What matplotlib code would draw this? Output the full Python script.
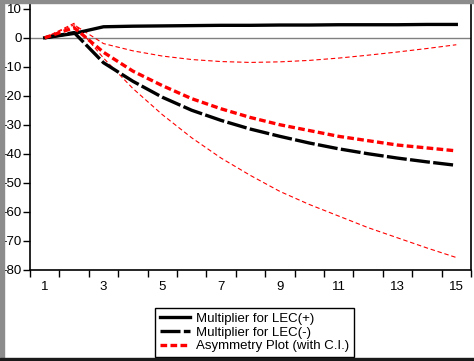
import matplotlib
matplotlib.use('Agg')
import matplotlib.pyplot as plt
from matplotlib.patches import Rectangle
import numpy as np

plt.rcParams.update({
    'font.family': 'Liberation Sans',
    'font.size': 9.5,
    'axes.unicode_minus': False,
})

periods = np.arange(1, 16)
lec_pos = [0, 1.5, 3.8, 4.0, 4.1, 4.2, 4.3, 4.3, 4.4, 4.4, 4.5, 4.5, 4.5, 4.6, 4.6]
lec_neg = [0, 1.8, -8.6, -15, -20.5, -25, -28.5, -31.5, -34, -36.3, -38.3, -40, -41.5, -42.8, -44]
asym = [0, 3.5, -5, -11.5, -16.5, -21, -24.5, -27.5, -30, -32, -34, -35.5, -37, -38, -39]
ci_upper = [0, 4.5, -2, -4.5, -6.3, -7.5, -8.2, -8.5, -8.3, -7.8, -7, -6, -4.9, -3.7, -2.4]
ci_lower = [0, 5, -7, -17.5, -26.5, -34.5, -41.5, -47.5, -53, -57.5, -61.5, -65.5, -69, -72.5, -75.8]

fig = plt.figure(figsize=(4.74, 3.61), dpi=100)
W, H = 474, 361
ax = fig.add_axes([30 / W, 1 - 269.7 / H, 441 / W, 266.7 / H])

ax.axhline(0, color='#808080', lw=1.0, zorder=1)
ax.plot(periods, ci_upper, color='red', lw=0.8, ls=(0, (4, 2.5)), zorder=2)
ax.plot(periods, ci_lower, color='red', lw=0.8, ls=(0, (4, 2.5)), zorder=2)
l1, = ax.plot(periods, lec_pos, color='black', lw=2.4, zorder=3)
l2, = ax.plot(periods, lec_neg, color='black', lw=2.4, ls=(0, (6, 1)), zorder=3)
l3, = ax.plot(periods, asym, color='red', lw=2.4, ls=(0, (2, 1)), zorder=4)

ax.set_xlim(0.5, 15.5)
ax.set_ylim(-80, 12)
ax.set_yticks(np.arange(-80, 11, 10))
ax.set_xticks(periods[::2])
ax.set_xticks(np.arange(0.5, 16, 1), minor=True)
ax.tick_params(axis='x', which='major', length=0, pad=8)
ax.tick_params(axis='x', which='minor', length=5, width=1, direction='out')
ax.tick_params(axis='y', length=5, width=1, direction='out', pad=1)
for side in ['left', 'bottom', 'right']:
    ax.spines[side].set_linewidth(1.2)
ax.spines['top'].set_visible(False)

leg = fig.legend([l1, l2, l3],
                 ['Multiplier for LEC(+)', 'Multiplier for LEC(-)', 'Asymmetry Plot (with C.I.)'],
                 loc='upper left', bbox_to_anchor=(155 / W, 1 - 308 / H),
                 handlelength=2.3, handletextpad=0.45, labelspacing=0.12,
                 borderpad=0.35, borderaxespad=0, fancybox=False, framealpha=1)
leg.get_frame().set_edgecolor('black')
leg.get_frame().set_linewidth(1.0)

# image border strips
fig.patches.append(Rectangle((0, 0), 4 / W, 1, transform=fig.transFigure, color='#8c8c8c', zorder=10))
fig.patches.append(Rectangle((0, 1 - 3 / H), 1, 3 / H, transform=fig.transFigure, color='#8c8c8c', zorder=10))
fig.patches.append(Rectangle((0, 0), 1, 3 / H, transform=fig.transFigure, color='#1a1a1a', zorder=10))

fig.savefig('out.png', dpi=100)
